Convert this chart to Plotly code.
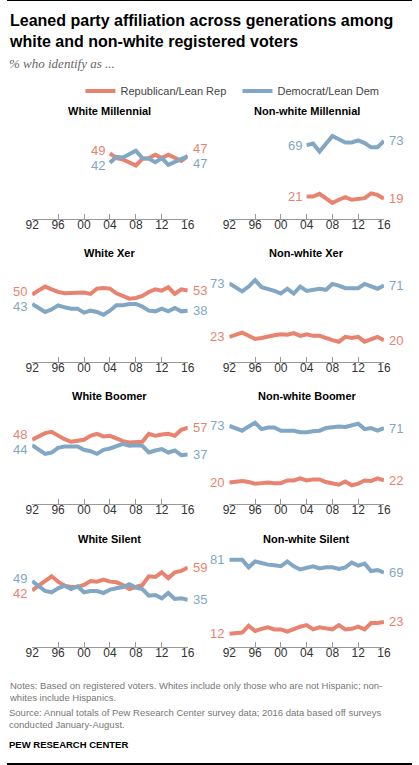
import plotly.graph_objects as go

# Survey years (1993 not in the series) and the shorter Millennial span
YEARS = [1992, 1994] + list(range(1995, 2017))
MILL_YEARS = list(range(2004, 2017))

TICK_YEARS = [1992, 1996, 2000, 2004, 2008, 2012, 2016]
TICK_LABELS = ['92', '96', '00', '04', '08', '12', '16']

# Values, % who identify as ...
whiteMillRep = [49, 45.5, 44.5, 42.5, 40, 45, 45.5, 48, 45.5, 48, 45.5, 43.5, 47]
whiteMillDem = [42, 46.5, 46, 48.5, 51, 45.5, 45, 42.5, 45.5, 40.5, 42.5, 45, 47]
nonwhiteMillRep = [21, 21, 23.5, 19.5, 15, 18, 20.5, 18, 18.5, 19.5, 24, 22.5, 19]
nonwhiteMillDem = [69, 70.5, 63, 70, 77.5, 74.5, 71.5, 71.5, 73.5, 71, 67, 67, 73]

whiteXerRep = [50, 56, 54, 52, 51, 51, 51, 51.5, 50.5, 54.5, 55, 54.5, 51, 49, 47, 47.5, 49, 52, 54, 53, 55.5, 50.5, 54, 53]
whiteXerDem = [43, 37, 39, 42, 40.5, 39.5, 39.5, 36.5, 38, 37, 35, 38, 42, 42, 43, 43, 41, 38, 37.5, 39.5, 37.5, 40, 37.5, 38]
nonwhiteXerRep = [23, 27, 24, 21, 22, 23.5, 24.5, 25.5, 25, 26.5, 24, 25.5, 24, 24, 21.5, 20, 18.5, 23, 22, 23, 18.5, 20.5, 23, 20]
nonwhiteXerDem = [73, 65.5, 70, 76, 69.5, 68, 66, 63.5, 68, 63.5, 70, 66, 67, 68, 67, 72.5, 71, 68.5, 68.5, 68.5, 72.5, 70, 68, 71]

whiteBoomerRep = [48, 53, 54, 51, 48.5, 46.5, 47.5, 48, 51, 52.5, 50.5, 51, 49, 47, 46, 46.5, 46.5, 52.5, 51, 52, 52.5, 51, 55.5, 57]
whiteBoomerDem = [44, 37.5, 38.5, 42, 43, 43, 43, 40.5, 39.5, 37.5, 40.5, 41.5, 43.5, 45, 43.5, 44, 43.5, 38.5, 40, 41, 38.5, 40, 36.5, 37]
nonwhiteBoomerRep = [20, 21.5, 20.5, 19, 19.5, 20, 19.5, 19.5, 22, 22, 24, 22, 23, 23, 20.5, 19.5, 18, 21, 17.5, 19, 22, 21.5, 24, 22]
nonwhiteBoomerDem = [73, 68.5, 72.5, 76, 70, 71.5, 71.5, 68.5, 68.5, 68.5, 67, 67, 68, 68.5, 71, 72, 72.5, 72, 73.5, 75, 70, 71, 68.5, 71]

whiteSilentRep = [42, 49.5, 52.5, 48.5, 45.5, 44.5, 44.5, 46, 49, 48.5, 50, 48.5, 48, 46, 43, 44.5, 46, 52.5, 52, 55.5, 51, 55.5, 56.5, 59]
whiteSilentDem = [49, 41.5, 40.5, 43.5, 45.5, 43, 45, 40.5, 41.5, 41.5, 40, 42.5, 43.5, 44.5, 46.5, 44, 43, 38, 38.5, 36, 40, 35.5, 36, 35]
nonwhiteSilentRep = [12, 13, 19.5, 14.5, 16.5, 18, 16, 16, 14, 16.5, 18.5, 20, 16, 18, 17, 16, 20, 16, 16.5, 18.5, 16, 22, 22, 23]
nonwhiteSilentDem = [81, 81, 74, 79.5, 78, 76.5, 76, 75, 79.5, 75, 72, 73.5, 75, 73, 74, 74, 72.5, 74, 78.5, 75.5, 77.5, 70.5, 71.5, 69]

# title, years, rep, dem, y max (white panels use a tighter scale)
PANELS = [
    ('White Millennial', MILL_YEARS, whiteMillRep, whiteMillDem, 80),
    ('Non-white Millennial', MILL_YEARS, nonwhiteMillRep, nonwhiteMillDem, 100),
    ('White Xer', YEARS, whiteXerRep, whiteXerDem, 80),
    ('Non-white Xer', YEARS, nonwhiteXerRep, nonwhiteXerDem, 100),
    ('White Boomer', YEARS, whiteBoomerRep, whiteBoomerDem, 80),
    ('Non-white Boomer', YEARS, nonwhiteBoomerRep, nonwhiteBoomerDem, 100),
    ('White Silent', YEARS, whiteSilentRep, whiteSilentDem, 80),
    ('Non-white Silent', YEARS, nonwhiteSilentRep, nonwhiteSilentDem, 100),
]

REP_COLOR = '#E8836F'
DEM_COLOR = '#82A7C4'
FONT = 'Liberation Sans'

WIDTH, HEIGHT = 419, 765
COL_PX = [(26, 187), (230, 390)]
AXIS_PX = [219, 361.5, 504, 646.5]
PLOT_H = 107


def px2x(px):
    return px / WIDTH


def px2y(px):
    return 1 - px / HEIGHT


#
# push the two end labels apart when the lines sit close together
#
def labelShifts(repVal, demVal, pxPerPt, minGap=15):
    gap = abs(repVal - demVal) * pxPerPt
    push = max(0, (minGap - gap) / 2)
    if repVal >= demVal:
        return push, -push
    return -push, push


def fmt(v):
    return str(int(round(v)))


fig = go.Figure()
annotations = []

for i, (title, years, rep, dem, ymax) in enumerate(PANELS):
    row, col = divmod(i, 2)
    n = '' if i == 0 else str(i + 1)
    x0, x1 = COL_PX[col]
    axisPx = AXIS_PX[row]

    fig.update_layout(**{
        'xaxis' + n: dict(domain=[px2x(x0), px2x(x1)], anchor='y' + n,
                          range=[YEARS[0], YEARS[-1]], tickvals=TICK_YEARS, ticktext=TICK_LABELS,
                          ticks='inside', ticklen=5, tickcolor='#999', showline=True,
                          linecolor='#999', linewidth=1, showgrid=False, zeroline=False,
                          ticklabelstandoff=-5,
                          tickfont=dict(family=FONT, size=12, color='#333'), fixedrange=True),
        'yaxis' + n: dict(domain=[px2y(axisPx), px2y(axisPx - PLOT_H)], anchor='x' + n,
                          range=[0, ymax], visible=False, fixedrange=True),
    })

    for name, vals, color in (('Republican/Lean Rep', rep, REP_COLOR), ('Democrat/Lean Dem', dem, DEM_COLOR)):
        fig.add_trace(go.Scatter(x=years, y=vals, mode='lines', name=name,
                                 line=dict(color=color, width=4), showlegend=(i == 0),
                                 xaxis='x' + n, yaxis='y' + n, hoverinfo='skip'))

    annotations.append(dict(text='<b>' + title + '</b>', xref='paper', yref='paper',
                            x=px2x((x0 + x1) / 2), y=px2y(axisPx - 108),
                            xanchor='center', yanchor='middle', showarrow=False,
                            font=dict(family=FONT, size=11, color='#000')))

    pxPerPt = PLOT_H / ymax
    for idx, xanchor, xshift in ((0, 'right', -3), (-1, 'left', 3)):
        repShift, demShift = labelShifts(rep[idx], dem[idx], pxPerPt)
        for vals, color, ys in ((rep, REP_COLOR, repShift), (dem, DEM_COLOR, demShift)):
            annotations.append(dict(text=fmt(vals[idx]), xref='x' + n, yref='y' + n,
                                    x=years[idx], y=vals[idx], xanchor=xanchor, yanchor='middle',
                                    xshift=xshift, yshift=ys, showarrow=False,
                                    font=dict(family=FONT, size=13, color=color)))

# headline, subtitle and footer
annotations += [
    dict(text='<b>Leaned party affiliation across generations among<br>white and non-white registered voters</b>',
         x=0, y=px2y(31), xanchor='left', yanchor='middle', align='left',
         font=dict(family=FONT, size=16, color='#000')),
    dict(text='<i>% who identify as ...</i>', x=0, y=px2y(63), xanchor='left', yanchor='middle',
         font=dict(family='Liberation Serif', size=13, color='#666')),
    dict(text='Notes: Based on registered voters. Whites include only those who are not Hispanic; non-<br>whites include Hispanics.',
         x=0, y=px2y(691), xanchor='left', yanchor='middle', align='left',
         font=dict(family=FONT, size=9.5, color='#777')),
    dict(text='Source: Annual totals of Pew Research Center survey data; 2016 data based off surveys<br>conducted January-August.',
         x=0, y=px2y(718), xanchor='left', yanchor='middle', align='left',
         font=dict(family=FONT, size=9.5, color='#777')),
    dict(text='<b>PEW RESEARCH CENTER</b>', x=0, y=px2y(744), xanchor='left', yanchor='middle',
         font=dict(family=FONT, size=9.5, color='#000')),
]
for a in annotations[-5:]:
    a.update(xref='paper', yref='paper', showarrow=False)

fig.update_layout(
    width=WIDTH, height=HEIGHT,
    margin=dict(l=0, r=0, t=0, b=0),
    paper_bgcolor='white', plot_bgcolor='white',
    annotations=annotations,
    showlegend=True,
    legend=dict(orientation='h', x=px2x(76), y=px2y(91), xanchor='left', yanchor='middle',
                font=dict(family=FONT, size=11, color='#444'), entrywidth=112,
                entrywidthmode='pixels', bgcolor='rgba(0,0,0,0)'),
    shapes=[
        dict(type='line', xref='paper', yref='paper', x0=0, x1=1, y0=1, y1=1,
             line=dict(color='#000', width=2)),
        dict(type='line', xref='paper', yref='paper', x0=0, x1=1, y0=px2y(764), y1=px2y(764),
             line=dict(color='#000', width=2)),
    ],
)

# the page's default body margin would push the figure 8px off the corner
fig.write_html('out.html', config={'displayModeBar': False},
               post_script="document.body.style.margin='0';")
